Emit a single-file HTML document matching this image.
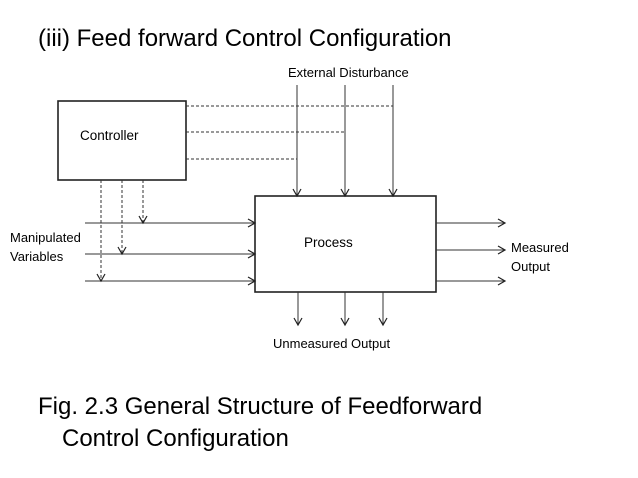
<!DOCTYPE html>
<html><head><style>
html,body{margin:0;padding:0;background:#fff;}
body{width:638px;height:478px;overflow:hidden;position:relative;font-family:"Liberation Sans",sans-serif;color:#111;}
svg{position:absolute;left:0;top:0;}
</style></head><body>
<svg width="638" height="478" viewBox="0 0 638 478" font-family="Liberation Sans, sans-serif">
<defs>
<marker id="a" markerWidth="10" markerHeight="10" refX="8" refY="5" orient="auto" markerUnits="userSpaceOnUse">
<path d="M1,1 L8,5 L1,9" fill="none" stroke="#222" stroke-width="1.2"/>
</marker>
</defs>
<text x="38" y="46" font-size="24">(iii)  Feed forward Control Configuration</text>
<text x="288" y="77" font-size="13">External Disturbance</text>
<g stroke="#222" stroke-width="1.6" fill="none">
<rect x="58" y="101" width="128" height="79"/>
<rect x="255" y="196" width="181" height="96"/>
</g>
<text x="80" y="140" font-size="13.5">Controller</text>
<text x="304" y="247" font-size="13.5">Process</text>
<g stroke="#333" stroke-width="1" fill="none" marker-end="url(#a)">
<line x1="297" y1="85" x2="297" y2="196"/>
<line x1="345" y1="85" x2="345" y2="196"/>
<line x1="393" y1="85" x2="393" y2="196"/>
<line x1="85" y1="223" x2="255" y2="223"/>
<line x1="85" y1="254" x2="255" y2="254"/>
<line x1="85" y1="281" x2="255" y2="281"/>
<line x1="436" y1="223" x2="505" y2="223"/>
<line x1="436" y1="250" x2="505" y2="250"/>
<line x1="436" y1="281" x2="505" y2="281"/>
<line x1="298" y1="292" x2="298" y2="325"/>
<line x1="345" y1="292" x2="345" y2="325"/>
<line x1="383" y1="292" x2="383" y2="325"/>
<line x1="101" y1="180" x2="101" y2="281" stroke-dasharray="3,2"/>
<line x1="122" y1="180" x2="122" y2="254" stroke-dasharray="3,2"/>
<line x1="143" y1="180" x2="143" y2="223" stroke-dasharray="3,2"/>
</g>
<g stroke="#333" stroke-width="1" stroke-dasharray="3,2">
<line x1="186" y1="106" x2="393" y2="106"/>
<line x1="186" y1="132" x2="345" y2="132"/>
<line x1="186" y1="159" x2="297" y2="159"/>
</g>
<text x="10" y="242" font-size="13">Manipulated</text>
<text x="10" y="261" font-size="13">Variables</text>
<text x="511" y="252" font-size="13">Measured</text>
<text x="511" y="271" font-size="13">Output</text>
<text x="273" y="348" font-size="13">Unmeasured Output</text>
<text x="38" y="414" font-size="24">Fig. 2.3 General Structure of Feedforward</text>
<text x="62" y="446" font-size="24">Control Configuration</text>
</svg>
</body></html>
